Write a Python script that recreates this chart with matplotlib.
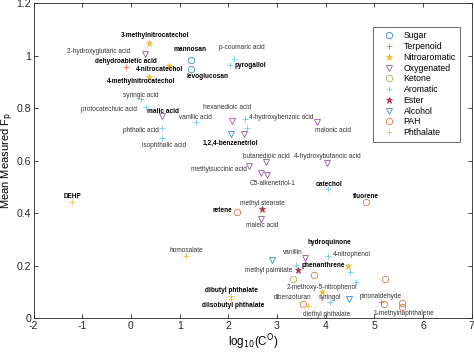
import matplotlib
matplotlib.use("Agg")
import matplotlib.pyplot as plt

plt.rcParams["font.family"] = ["Liberation Sans", "DejaVu Sans"]
plt.rcParams["axes.unicode_minus"] = False

# categories and their MATLAB-like styles
categories = ["Sugar", "Terpenoid", "Nitroaromatic", "Oxygenated", "Ketone",
              "Aromatic", "Ester", "Alcohol", "PAH", "Phthalate"]
markers = ["o", "+", "*", "v", "o", "+", "*", "v", "o", "+"]
colors = ["#0072BD", "#D95319", "#EDB120", "#7E2F8E", "#77AC30",
          "#4DBEEE", "#A2142F", "#0072BD", "#D95319", "#EDB120"]

# log10(C0) and mean measured Fp per category
sugar_x = [1.23, 1.23]
sugar_y = [0.985, 0.951]
terp_x = [-0.11, 5.13]
terp_y = [0.955, 0.061]
nitro_x = [0.37, 0.79, 0.38, 4.45, 3.92]
nitro_y = [1.049, 0.961, 0.919, 0.199, 0.099]
oxy_x = [0.29, 0.64, 2.08, 2.33, 3.83, 2.78, 4.02, 2.42, 2.68, 2.79, 2.68, 3.57]
oxy_y = [1.005, 0.769, 0.752, 0.700, 0.748, 0.594, 0.590, 0.580, 0.553, 0.544, 0.379, 0.228]
ketone_x = [3.33]
ketone_y = [0.149]
arom_x = [0.21, 0.30, 1.33, 0.64, 0.64, 2.12, 2.03, 2.35, 2.38, 4.05, 4.04, 3.40, 4.50, 4.63, 4.09]
arom_y = [0.834, 0.805, 0.748, 0.725, 0.687, 0.989, 0.963, 0.757, 0.726, 0.491, 0.236, 0.202,
          0.176, 0.136, 0.060]
ester_x = [2.69, 3.44]
ester_y = [0.417, 0.184]
alc_x = [2.05, 2.89, 4.48]
alc_y = [0.700, 0.222, 0.074]
pah_x = [2.18, 4.83, 3.76, 5.22, 3.53, 5.20, 5.56, 5.56]
pah_y = [0.404, 0.441, 0.164, 0.147, 0.052, 0.053, 0.056, 0.043]
phth_x = [-1.21, 1.13, 2.05, 2.05, 3.64]
phth_y = [0.443, 0.237, 0.084, 0.071, 0.046]

xs = [sugar_x, terp_x, nitro_x, oxy_x, ketone_x, arom_x, ester_x, alc_x, pah_x, phth_x]
ys = [sugar_y, terp_y, nitro_y, oxy_y, ketone_y, arom_y, ester_y, alc_y, pah_y, phth_y]

# compound labels: text, x (left edge), y, bold
labels = [
    ("3-methylnitrocatechol", -0.205, 1.075, True),
    ("2-hydroxyglutaric acid", -1.314, 1.017, False),
    ("mannosan", 0.883, 1.025, True),
    ("p-coumaric acid", 1.807, 1.030, False),
    ("pyrogallol", 2.136, 0.961, True),
    ("dehydroabietic acid", -0.739, 0.979, True),
    ("4-nitrocatechol", 0.103, 0.947, True),
    ("levoglucosan", 1.150, 0.919, True),
    ("4-methylnitrocatechol", -0.499, 0.900, True),
    ("syringic acid", -0.158, 0.850, False),
    ("protocatechuic acid", -1.033, 0.795, False),
    ("malic acid", 0.322, 0.786, True),
    ("hexanedioic acid", 1.472, 0.803, False),
    ("vanillic acid", 0.992, 0.765, False),
    ("4-hydroxybenzoic acid", 2.429, 0.765, False),
    ("malonic acid", 3.778, 0.714, False),
    ("phthalic acid", -0.170, 0.716, False),
    ("1,2,4-benzenetriol", 1.472, 0.666, True),
    ("isophthalic acid", 0.232, 0.656, False),
    ("butanedioic acid", 2.294, 0.614, False),
    ("4-hydroxybutanoic acid", 3.353, 0.614, False),
    ("methylsuccinic acid", 1.232, 0.566, False),
    ("C5-alkenetriol-1", 2.444, 0.513, False),
    ("catechol", 3.793, 0.509, True),
    ("fluorene", 4.565, 0.462, True),
    ("methyl stearate", 2.238, 0.437, False),
    ("retene", 1.678, 0.409, True),
    ("maleic acid", 2.355, 0.354, False),
    ("DEHP", -1.376, 0.462, True),
    ("hydroquinone", 3.620, 0.287, True),
    ("homosalate", 0.786, 0.256, False),
    ("vanillin", 3.127, 0.249, False),
    ("4-nitrophenol", 4.154, 0.241, False),
    ("methyl palmitate", 2.341, 0.183, False),
    ("phenanthrene", 3.505, 0.199, True),
    ("2-methoxy-5-nitrophenol", 3.197, 0.117, False),
    ("dibutyl phthalate", 1.520, 0.104, True),
    ("dibenzofuran", 2.936, 0.077, False),
    ("syringol", 3.867, 0.077, False),
    ("pinonaldehyde", 4.702, 0.081, False),
    ("diisobutyl phthalate", 1.452, 0.047, True),
    ("diethyl phthalate", 3.526, 0.015, False),
    ("1-methylnaphthalene", 4.990, 0.018, False),
]

fig = plt.figure(figsize=(4.74, 3.53), dpi=100)
ax = fig.add_axes([0.071, 0.099, 0.924, 0.892])

for cat, m, c, x, y in zip(categories, markers, colors, xs, ys):
    if m in ("o", "v"):
        ax.plot(x, y, linestyle="none", marker=m, markersize=4.6, markerfacecolor="none",
                markeredgecolor=c, markeredgewidth=0.6, label=cat, alpha=0.8)
    else:
        ax.plot(x, y, linestyle="none", marker=m, markersize=4.6, color=c,
                markeredgewidth=0.6, label=cat, alpha=0.8)

for txt, lx, ly, bold in labels:
    ax.text(lx, ly, txt, fontsize=4.7, va="center", ha="left",
            fontweight="bold" if bold else "normal",
            color="black" if bold else "#333333")

ax.set_xlim(-2, 7)
ax.set_ylim(0, 1.2)
ax.set_xticks(range(-2, 8))
ax.set_yticks([0, 0.2, 0.4, 0.6, 0.8, 1.0, 1.2])
ax.set_yticklabels(["0", "0.2", "0.4", "0.6", "0.8", "1", "1.2"])
ax.tick_params(direction="in", top=True, right=True, labelsize=7.6, length=3,
               width=0.6, colors="#262626", pad=2)
for s in ax.spines.values():
    s.set_color("#262626")
    s.set_linewidth(0.6)

ax.set_xlabel("log$_{10}$(C$^{\\mathrm{O}}$)", fontsize=8.3, labelpad=1)
ax.set_ylabel("Mean Measured F$_{\\mathrm{p}}$", fontsize=8)
ax.yaxis.set_label_coords(-0.04, 0.5)

leg = ax.legend(loc="upper right", bbox_to_anchor=(0.974, 0.924), fontsize=6.3,
                frameon=True, fancybox=False, handlelength=2.6, handletextpad=0.4,
                labelspacing=0.2, borderpad=0.5, borderaxespad=0)
leg.get_frame().set_edgecolor("#262626")
leg.get_frame().set_linewidth(0.6)

fig.savefig("out.png", dpi=100)
